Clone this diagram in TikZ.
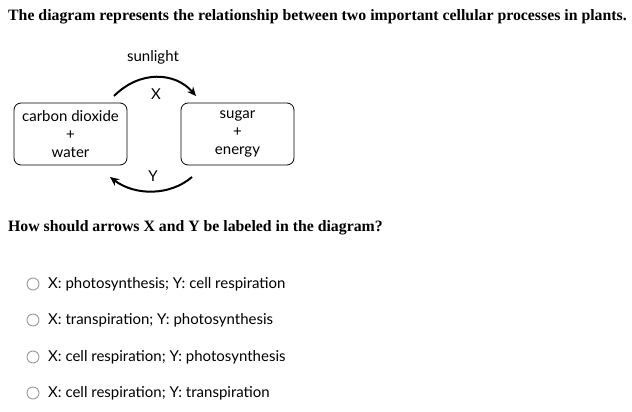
\documentclass[tikz,border=0pt]{standalone}
\usepackage{fontspec}
\setmainfont{Liberation Serif}
\newfontfamily\lato{Lato}
\usetikzlibrary{arrows.meta}
\begin{document}
\begin{tikzpicture}[x=1pt,y=-1pt,
  box/.style={draw,rounded corners=7pt,line width=0.8pt,minimum width=113pt,minimum height=62pt,align=center,font=\lato\fontsize{15}{18}\selectfont},
  lbl/.style={font=\lato\fontsize{15}{18}\selectfont},
  opt/.style={anchor=west,font=\lato\fontsize{15}{18}\selectfont},
  radio/.style={draw=gray!80,circle,minimum size=12pt,inner sep=0pt,line width=0.9pt},
  arr/.style={line width=2pt,-{Stealth[length=9pt,width=8pt]}}]
\useasboundingbox (0,0) rectangle (632,412);
\node[anchor=west,font=\bfseries\fontsize{15.8}{18}\selectfont,inner sep=0] (title) at (8,17) {The diagram represents the relationship between two important cellular processes in plants.};
\node[box] (a) at (70.5,134) {carbon dioxide\\+\\water};
\node[box] (b) at (237.5,134) {sugar\\+\\energy};
\node[lbl] (sun) at (153,57) {sunlight};
\node[lbl] (x) at (156,94) {X};
\node[lbl] (y) at (153,176) {Y};
\coordinate (x1) at (114,96); \coordinate (x2) at (196,96);
\coordinate (y1) at (192,177); \coordinate (y2) at (110,177);
\draw[arr] (x1) .. controls (140,70) and (175,72) .. (x2);
\draw[arr] (y1) .. controls (170,196) and (135,196) .. (y2);
\node[anchor=west,font=\bfseries\fontsize{15.8}{18}\selectfont,inner sep=0] (q) at (8,228) {How should arrows X and Y be labeled in the diagram?};
\foreach \i/\yy/\t in {1/284/{X: photosynthesis; Y: cell respiration},2/320/{X: transpiration; Y: photosynthesis},3/357/{X: cell respiration; Y: photosynthesis},4/393/{X: cell respiration; Y: transpiration}}{%
  \node[radio] (r\i) at (33,\yy) {};
  \node[opt,inner sep=0] (o\i) at (48,\yy) {\t};
}
\end{tikzpicture}
\end{document}
